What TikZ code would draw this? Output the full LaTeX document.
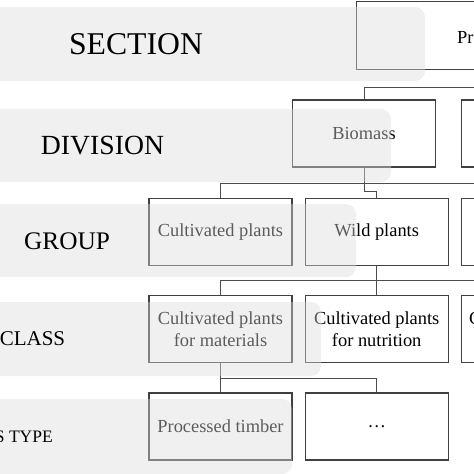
\documentclass[tikz,border=0pt]{standalone}
\usepackage{fontspec}
\setmainfont{Liberation Serif}
\usetikzlibrary{calc,positioning}
\definecolor{boxgray}{gray}{0.25}
\definecolor{linkgray}{gray}{0.3}
\definecolor{bandgray}{gray}{0.86}
\newcommand{\boxtextfont}{\fontsize{18.4}{22}\selectfont}

\begin{document}
\begin{tikzpicture}[x=1pt,y=-1pt,
	box/.style={draw=boxgray,line width=1.2pt,rectangle,minimum width=143pt,minimum height=67pt,align=center,font=\boxtextfont,inner sep=0pt},
	link/.style={draw=linkgray,line width=1pt},
	band/.style={fill=bandgray,fill opacity=0.42,rounded corners=10pt},
	lvl/.style={text=black,inner sep=0pt}]
		\useasboundingbox (0,0) rectangle (474,474);
		\clip (0,0) rectangle (474,474);

		% boxes of the tree
		\node[box,anchor=north west,minimum width=300pt,minimum height=68pt] (products) at (356,1) {};
		\node[anchor=west,font=\boxtextfont,inner sep=0pt] (prodtext) at (457,37) {Pr};
		\node[box] (biomass) at (364,133.5) {Biomass};
		\node[box,right=25pt of biomass] (division2) {};
		\node[box] (cultivated) at (220.5,232) {Cultivated plants};
		\node[box,right=12pt of cultivated] (wild) {Wild plants};
		\node[box,right=12pt of wild] (group3) {};
		\node[box,below=29pt of cultivated] (materials) {Cultivated plants\\for materials};
		\node[box,right=12pt of materials] (nutrition) {Cultivated plants\\for nutrition};
		\node[box,right=12pt of nutrition] (class3) {};
		\node[anchor=west,font=\boxtextfont,inner sep=0pt] (class3text) at ([xshift=8pt,yshift=11pt]class3.west) {C};
		\node[box,below=29pt of materials] (timber) {Processed timber};
		\node[box,right=12pt of timber] (dots) {…};

		\coordinate (sectbus) at (480,87);
		\coordinate (groupbus) at (480,183);
		\coordinate (classbus) at (480,280);

		\path
			(biomass.north) edge[link,to path={|- (\tikztotarget)}] (sectbus)
			(cultivated.north) edge[link,to path={|- (\tikztotarget)}] (groupbus)
			(materials.north) edge[link,to path={|- (\tikztotarget)}] (classbus)
			(wild.south) edge[link] (nutrition.north)
			(materials.south) edge[link] (timber.north)
			;
		\draw[link] (biomass.south) -- ++(0,24) -| (wild.north);
		\draw[link] (materials.south) ++(0,15) -| (dots.north);

		% level bands
		\fill[band] (-20,7) rectangle (425,81);
		\fill[band] (-20,109) rectangle (391,182);
		\fill[band] (-20,204) rectangle (356,277);
		\fill[band] (-20,302) rectangle (321,376);
		\fill[band] (-20,399) rectangle (292,474);

		\node[lvl,font=\fontsize{31.7}{36}\selectfont] (section) at (136,44) {SECTION};
		\node[lvl,font=\fontsize{27.7}{32}\selectfont] (division) at (102.5,146) {DIVISION};
		\node[lvl,font=\fontsize{25.3}{30}\selectfont] (group) at (67,241) {GROUP};
		\node[lvl,font=\fontsize{21}{25}\selectfont] (class) at (32.5,339) {CLASS};
		\node[lvl,font=\fontsize{17.5}{21}\selectfont,anchor=east] (type) at (53,437) {S TYPE};
	\end{tikzpicture}
\end{document}
